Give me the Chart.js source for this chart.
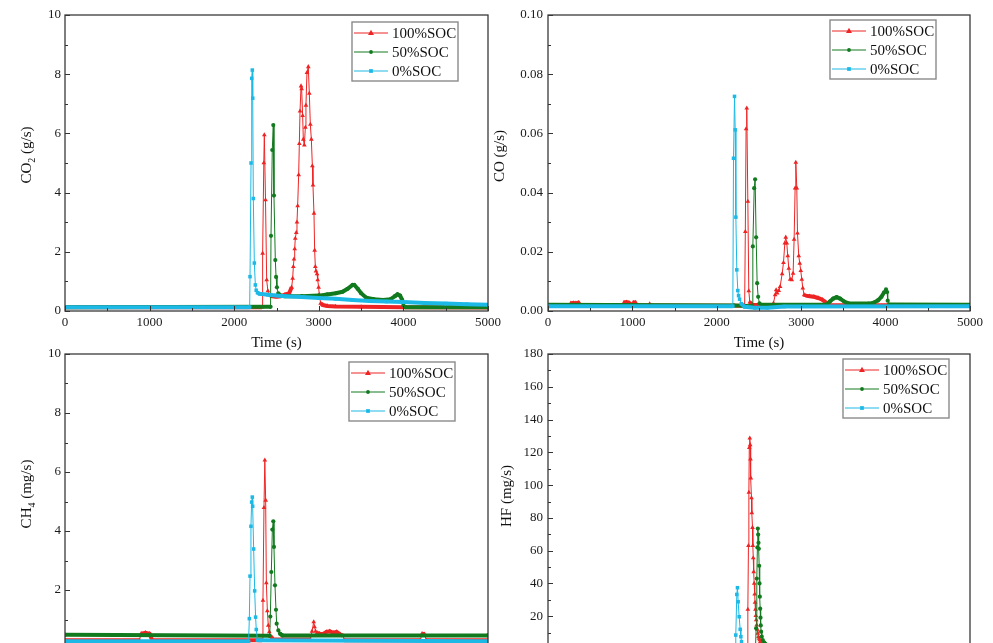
<!DOCTYPE html>
<html>
<head>
<meta charset="utf-8">
<script src="https://cdn.jsdelivr.net/npm/chart.js@4.4.1/dist/chart.umd.min.js"></script>
<style>
  html, body { margin: 0; padding: 0; background: #fff; }
  body { width: 993px; height: 643px; overflow: hidden; position: relative; }
  canvas { position: absolute; }
</style>
</head>
<body>
<canvas id="co2Chart" width="510" height="360" style="left:0;top:0"></canvas>
<canvas id="coChart" width="513" height="360" style="left:480px;top:0"></canvas>
<canvas id="ch4Chart" width="510" height="360" style="left:0;top:339px"></canvas>
<canvas id="hfChart" width="513" height="360" style="left:480px;top:339px"></canvas>
<script>
// series names, shared by all four panels
const seriesLabels = ['100%SOC', '50%SOC', '0%SOC'];

// axis ticks
const timeTicks = [0, 1000, 2000, 3000, 4000, 5000];
const co2Ticks = [0, 2, 4, 6, 8, 10];
const coTicks = [0, 0.02, 0.04, 0.06, 0.08, 0.10];
const ch4Ticks = [0, 2, 4, 6, 8, 10];
const hfTicks = [0, 20, 40, 60, 80, 100, 120, 140, 160, 180];

// CO2 (g/s) vs time (s)
const co2Soc100 = [[0,0.13],[2330,0.13],[2336,1.95],[2350,5.0],[2356,5.95],[2370,3.75],[2384,1.05],[2398,0.68],[2410,0.55],[2450,0.5],[2500,0.48],[2550,0.5],[2600,0.55],[2650,0.6],[2679,0.8],[2691,1.1],[2699,1.5],[2707,1.75],[2715,2.1],[2722,2.45],[2734,2.65],[2742,3.0],[2750,3.55],[2762,4.6],[2770,5.65],[2778,6.75],[2790,7.6],[2797,7.5],[2809,6.6],[2817,5.8],[2829,5.6],[2841,6.2],[2848,6.95],[2860,8.05],[2876,8.25],[2888,7.35],[2900,6.3],[2912,5.8],[2924,4.9],[2931,4.25],[2943,3.3],[2951,2.05],[2959,1.5],[2967,1.35],[2979,1.25],[2987,1.05],[2998,0.8],[3006,0.55],[3022,0.26],[3050,0.2],[3100,0.17],[3200,0.15],[3500,0.14],[4000,0.13],[5000,0.12]];
const co2Soc50 = [[0,0.13],[2430,0.14],[2435,2.54],[2450,5.44],[2462,6.28],[2470,3.9],[2486,1.72],[2495,1.15],[2505,0.8],[2520,0.6],[2550,0.52],[2600,0.5],[2800,0.5],[3000,0.52],[3100,0.56],[3200,0.6],[3280,0.65],[3340,0.75],[3400,0.88],[3420,0.88],[3460,0.75],[3500,0.6],[3560,0.45],[3650,0.4],[3760,0.37],[3850,0.4],[3900,0.5],[3930,0.56],[3960,0.52],[3985,0.38],[4000,0.2],[4020,0.13],[5000,0.13]];
const co2Soc0 = [[0,0.13],[2183,0.13],[2187,1.16],[2199,5.0],[2207,7.86],[2214,8.14],[2219,7.19],[2226,3.8],[2238,1.62],[2250,0.88],[2260,0.7],[2275,0.62],[2300,0.58],[2400,0.55],[2500,0.52],[2600,0.5],[2800,0.47],[3000,0.44],[3200,0.41],[3400,0.37],[3600,0.34],[3800,0.32],[4000,0.3],[4250,0.27],[4500,0.25],[4750,0.23],[5000,0.21]];

// CO (g/s) vs time (s)
const coSoc100 = [[0,0.0018],[265,0.0018],[270,0.0026],[300,0.0027],[330,0.0026],[360,0.0028],[385,0.0019],[890,0.0019],[900,0.0029],[930,0.003],[960,0.0028],[990,0.002],[1010,0.0029],[1040,0.0029],[1055,0.0019],[1195,0.0019],[1205,0.0024],[1215,0.0019],[2330,0.0018],[2338,0.0268],[2347,0.0615],[2355,0.0685],[2368,0.037],[2379,0.0068],[2391,0.003],[2420,0.0021],[2660,0.002],[2671,0.0026],[2691,0.0054],[2703,0.0071],[2716,0.006],[2734,0.0069],[2750,0.0082],[2774,0.0125],[2790,0.0163],[2806,0.0229],[2817,0.0249],[2829,0.0229],[2841,0.0186],[2853,0.0144],[2869,0.0107],[2888,0.0105],[2904,0.0127],[2916,0.0242],[2928,0.0415],[2936,0.0502],[2948,0.0415],[2956,0.0263],[2971,0.0186],[2983,0.0161],[2995,0.0136],[3007,0.0107],[3019,0.0077],[3035,0.0054],[3050,0.0052],[3100,0.005],[3150,0.0048],[3200,0.0044],[3250,0.0038],[3290,0.003],[3320,0.002],[5000,0.0019]];
const coSoc50 = [[0,0.0021],[2200,0.0019],[2420,0.0016],[2427,0.0218],[2443,0.0415],[2454,0.0445],[2466,0.0249],[2478,0.0094],[2490,0.0048],[2506,0.0026],[2530,0.0021],[3300,0.0022],[3340,0.0032],[3380,0.0042],[3420,0.0047],[3460,0.0042],[3510,0.0032],[3560,0.0026],[3800,0.0025],[3860,0.0028],[3910,0.0036],[3950,0.0048],[3985,0.0064],[4005,0.0073],[4018,0.0064],[4025,0.0035],[4040,0.0022],[5000,0.0021]];
const coSoc0 = [[0,0.0016],[2190,0.0016],[2198,0.0516],[2210,0.0725],[2218,0.0612],[2226,0.0317],[2237,0.0139],[2249,0.0069],[2258,0.0052],[2270,0.004],[2290,0.0025],[2330,0.0014],[2450,0.0011],[2600,0.0011],[2800,0.0015],[5000,0.0016]];

// CH4 (mg/s) vs time (s)
const ch4Soc100 = [[0,0.3],[880,0.3],[900,0.52],[950,0.55],[1000,0.52],[1030,0.3],[2330,0.3],[2340,1.65],[2352,4.79],[2362,6.4],[2372,5.04],[2380,2.24],[2392,1.29],[2403,0.8],[2415,0.58],[2431,0.43],[2460,0.33],[2900,0.32],[2920,0.6],[2940,0.92],[2950,0.75],[2962,0.6],[2980,0.55],[3010,0.52],[3050,0.5],[3090,0.58],[3130,0.6],[3170,0.55],[3210,0.58],[3250,0.5],[3285,0.45],[3300,0.3],[4200,0.3],[4220,0.52],[4250,0.5],[4270,0.3],[5000,0.3]];
const ch4Soc50 = [[0,0.48],[2420,0.45],[2427,1.1],[2439,2.61],[2451,4.05],[2462,4.33],[2470,3.46],[2482,2.16],[2494,1.33],[2502,0.86],[2522,0.63],[2541,0.52],[2570,0.46],[5000,0.46]];
const ch4Soc0 = [[0,0.26],[2170,0.26],[2179,1.03],[2187,2.47],[2198,4.16],[2206,4.98],[2214,5.15],[2218,4.84],[2230,3.39],[2242,1.97],[2253,1.08],[2261,0.66],[2275,0.3],[5000,0.26]];

// HF (mg/s) vs time (s)
const hfSoc100 = [[0,0],[2364,0],[2368,24.2],[2375,63],[2380,95.5],[2385,122.8],[2391,128.7],[2395,124.6],[2399,115.9],[2403,104.3],[2411,92.2],[2415,83],[2423,74.1],[2427,63],[2432,55.6],[2437,47.1],[2443,40],[2449,33.5],[2453,28.4],[2458,24.2],[2462,20.3],[2467,17.7],[2472,14.6],[2478,12],[2486,9.5],[2494,7.5],[2500,6.5],[2508,5.5],[2516,4.5],[2530,3.5],[2560,2.5],[2620,1.5],[2700,0.5],[2800,0],[5000,0]];
const hfSoc50 = [[0,0],[2458,0],[2466,12.6],[2474,43],[2481,62],[2486,73.5],[2490,69.8],[2494,64.8],[2498,61.1],[2502,50.8],[2506,40],[2510,31.9],[2514,24.6],[2518,19.1],[2521,14.4],[2525,10.6],[2533,7.5],[2545,5.5],[2560,4],[2600,2],[2700,0.5],[2800,0],[5000,0]];
const hfSoc0 = [[0,0],[2218,0],[2225,8.5],[2237,33.3],[2245,37.4],[2253,28.8],[2265,19.7],[2277,12.0],[2285,7.5],[2293,4.5],[2305,2.5],[2330,1],[2400,0],[5000,0]];

const seriesColors = ['#ee2424', '#127a1e', '#1cb9e6'];
const markerStyles = ['triangle', 'circle', 'rect'];
const markerRadii = [2.7, 2.1, 2.5];
const serif = '"Liberation Serif", "Times New Roman", serif';

function drawMarker(ctx, style, r, x, y) {
    ctx.beginPath();
    if (style === 'triangle') {
        ctx.moveTo(x, y - r * 1.2);
        ctx.lineTo(x + r * 1.1, y + r * 0.7);
        ctx.lineTo(x - r * 1.1, y + r * 0.7);
        ctx.closePath();
    } else if (style === 'rect') {
        const s = r * 0.75;
        ctx.rect(x - s, y - s, 2 * s, 2 * s);
    } else {
        ctx.arc(x, y, r * 0.9, 0, Math.PI * 2);
    }
    ctx.fill();
}

// box frame plus inward major/minor ticks on the left and bottom axes
const frameTicks = {
    id: 'frameTicks',
    afterDatasetsDraw(chart) {
        const { ctx, chartArea: a, scales: { x, y } } = chart;
        ctx.save();
        ctx.strokeStyle = '#333';
        ctx.lineWidth = 1;
        ctx.beginPath();
        const xv = x.ticks.map(t => t.value);
        xv.forEach((v, i) => {
            const px = Math.round(x.getPixelForValue(v)) + 0.5;
            ctx.moveTo(px, a.bottom); ctx.lineTo(px, a.bottom - 5);
            if (i > 0) {
                const mx = Math.round(x.getPixelForValue((v + xv[i - 1]) / 2)) + 0.5;
                ctx.moveTo(mx, a.bottom); ctx.lineTo(mx, a.bottom - 3);
            }
        });
        const yv = y.ticks.map(t => t.value);
        yv.forEach((v, i) => {
            const py = Math.round(y.getPixelForValue(v)) + 0.5;
            ctx.moveTo(a.left, py); ctx.lineTo(a.left + 5, py);
            if (i > 0) {
                const my = Math.round(y.getPixelForValue((v + yv[i - 1]) / 2)) + 0.5;
                ctx.moveTo(a.left, my); ctx.lineTo(a.left + 3, my);
            }
        });
        ctx.stroke();
        ctx.strokeStyle = '#3a3a3a';
        ctx.lineWidth = 1.3;
        ctx.strokeRect(a.left, a.top, a.right - a.left, a.bottom - a.top);
        ctx.restore();
    }
};

// framed legend in the upper right corner of the plot
const boxLegend = {
    id: 'boxLegend',
    afterDraw(chart, args, opts) {
        const { ctx, chartArea } = chart;
        const w = 106, h = 59;
        const left = chartArea.right - opts.right - w;
        const top = chartArea.top + opts.top;
        ctx.save();
        ctx.fillStyle = '#fff';
        ctx.fillRect(left, top, w, h);
        ctx.strokeStyle = '#8a8a8a';
        ctx.lineWidth = 1.4;
        ctx.strokeRect(left, top, w, h);
        chart.data.datasets.forEach((ds, i) => {
            const y = top + 11 + i * 19;
            ctx.strokeStyle = ds.borderColor;
            ctx.fillStyle = ds.borderColor;
            ctx.lineWidth = 1;
            ctx.beginPath();
            ctx.moveTo(left + 2, y); ctx.lineTo(left + 36, y);
            ctx.stroke();
            drawMarker(ctx, markerStyles[i], markerRadii[i], left + 19, y);
            ctx.fillStyle = '#111';
            ctx.font = '15px ' + serif;
            ctx.textBaseline = 'middle';
            ctx.textAlign = 'left';
            ctx.fillText(ds.label, left + 40, y + 1);
        });
        ctx.restore();
    }
};

// rotated y title with subscript support
const sideTitle = {
    id: 'sideTitle',
    afterDraw(chart, args, opts) {
        const { ctx, chartArea } = chart;
        const big = '15px ' + serif, small = '10px ' + serif;
        let total = 0;
        opts.parts.forEach(([txt, sub]) => {
            ctx.font = sub ? small : big;
            total += ctx.measureText(txt).width;
        });
        ctx.save();
        ctx.translate(opts.x, (chartArea.top + chartArea.bottom) / 2 + opts.shift);
        ctx.rotate(-Math.PI / 2);
        ctx.fillStyle = '#111';
        ctx.textBaseline = 'middle';
        ctx.textAlign = 'left';
        let cx = -total / 2;
        opts.parts.forEach(([txt, sub]) => {
            ctx.font = sub ? small : big;
            ctx.fillText(txt, cx, sub ? 5 : 0);
            cx += ctx.measureText(txt).width;
        });
        ctx.restore();
    }
};

function buildChart(id, cfg) {
    return new Chart(document.getElementById(id), {
        type: 'line',
        data: {
            datasets: cfg.series.map((pts, i) => ({
                label: seriesLabels[i],
                data: pts.map(([x, y]) => ({ x, y })),
                borderColor: seriesColors[i],
                backgroundColor: seriesColors[i],
                pointStyle: markerStyles[i],
                pointRadius: markerRadii[i],
                pointBorderWidth: 0,
                borderWidth: 1,
                tension: 0,
                order: 2 - i,
                // long gaps stand for densely sampled flat stretches
                segment: { borderWidth: c => (c.p1.parsed.x - c.p0.parsed.x >= 25 ? 4 : 1) }
            }))
        },
        options: {
            responsive: false,
            animation: false,
            devicePixelRatio: 1,
            events: [],
            layout: { padding: cfg.padding },
            plugins: {
                legend: { display: false },
                tooltip: { enabled: false },
                boxLegend: cfg.legend,
                sideTitle: cfg.title
            },
            scales: {
                x: {
                    type: 'linear',
                    min: 0,
                    max: 5000,
                    afterBuildTicks: s => { s.ticks = timeTicks.map(value => ({ value })); },
                    afterFit: s => { s.height = cfg.xHeight; s.paddingLeft = 0; s.paddingRight = 0; },
                    grid: { display: false, drawTicks: false },
                    border: { display: false },
                    ticks: {
                        padding: 4, maxRotation: 0, autoSkip: false, color: '#1a1a1a',
                        font: { family: serif, size: 13 },
                        callback: v => String(v)
                    },
                    title: {
                        display: true, text: 'Time (s)', color: '#111',
                        font: { family: serif, size: 15 },
                        padding: { top: 0, bottom: 8 }
                    }
                },
                y: {
                    min: cfg.yTicks[0],
                    max: cfg.yTicks[cfg.yTicks.length - 1],
                    afterBuildTicks: s => { s.ticks = cfg.yTicks.map(value => ({ value })); },
                    afterFit: s => { s.width = cfg.yWidth; s.paddingTop = 0; s.paddingBottom = 0; },
                    grid: { display: false, drawTicks: false },
                    border: { display: false },
                    ticks: {
                        padding: cfg.yPad, autoSkip: false, color: '#1a1a1a',
                        font: { family: serif, size: 13 },
                        callback: cfg.fmt
                    }
                }
            }
        },
        plugins: [frameTicks, boxLegend, sideTitle]
    });
}

document.addEventListener('DOMContentLoaded', function() {
    buildChart('co2Chart', {
        series: [co2Soc100, co2Soc50, co2Soc0],
        yTicks: co2Ticks, fmt: v => String(v),
        padding: { left: 0, top: 15, right: 22, bottom: 0 },
        yWidth: 65, yPad: 4, xHeight: 49,
        legend: { right: 30, top: 7 },
        title: { parts: [['CO', 0], ['2', 1], [' (g/s)', 0]], x: 27, shift: -8 }
    });
    buildChart('coChart', {
        series: [coSoc100, coSoc50, coSoc0],
        yTicks: coTicks, fmt: v => v.toFixed(2),
        padding: { left: 0, top: 15, right: 23, bottom: 0 },
        yWidth: 68, yPad: 5, xHeight: 49,
        legend: { right: 34, top: 5 },
        title: { parts: [['CO (g/s)', 0]], x: 20, shift: -7 }
    });
    buildChart('ch4Chart', {
        series: [ch4Soc100, ch4Soc50, ch4Soc0],
        yTicks: ch4Ticks, fmt: v => String(v),
        padding: { left: 0, top: 15, right: 22, bottom: 0 },
        yWidth: 65, yPad: 4, xHeight: 50,
        legend: { right: 33, top: 8 },
        title: { parts: [['CH', 0], ['4', 1], [' (mg/s)', 0]], x: 27, shift: -7.5 }
    });
    buildChart('hfChart', {
        series: [hfSoc100, hfSoc50, hfSoc0],
        yTicks: hfTicks, fmt: v => String(v),
        padding: { left: 0, top: 15, right: 23, bottom: 0 },
        yWidth: 68, yPad: 5, xHeight: 50,
        legend: { right: 21, top: 5 },
        title: { parts: [['HF (mg/s)', 0]], x: 27, shift: -5.5 }
    });
});
</script>
</body>
</html>
